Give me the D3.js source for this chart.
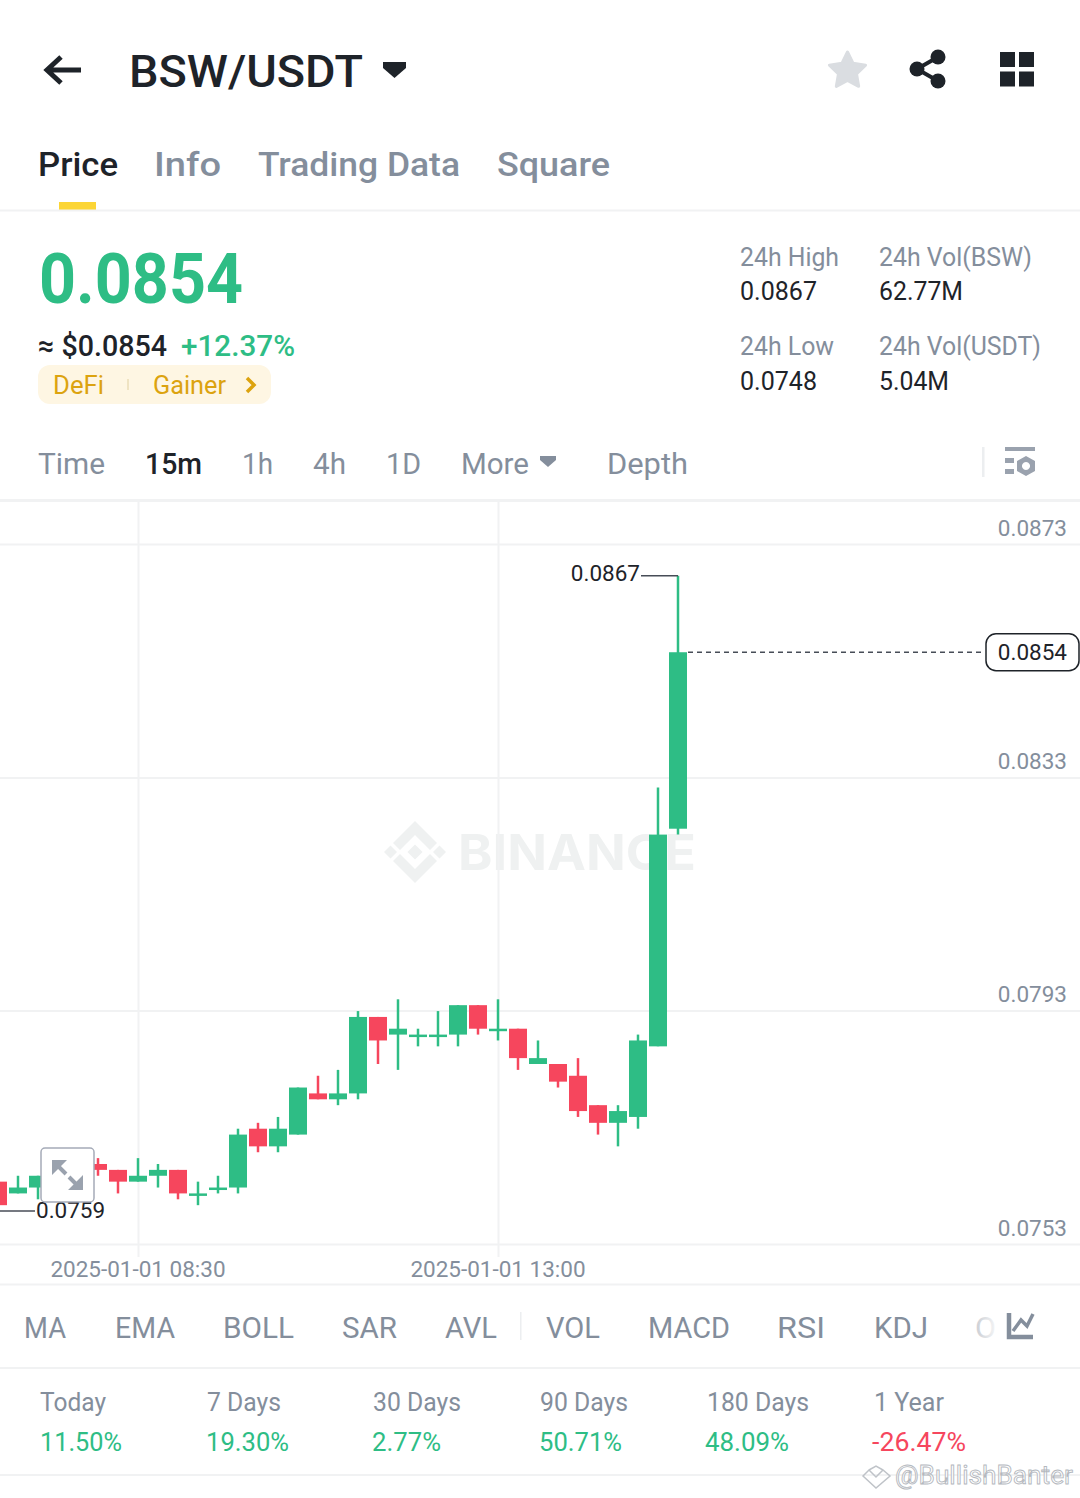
<!DOCTYPE html>
<html lang="en">
<head>
  <meta charset="UTF-8" />
  <title>BSW/USDT</title>
  <script src="https://d3js.org/d3.v7.min.js"></script>
  <style>
    html, body { margin: 0; padding: 0; background: #fff; }
    svg { display: block; font-family: Roboto, sans-serif; }
  </style>
</head>
<body>
  <svg width="1080" height="1498"></svg>

  <script>
    // 15m candles, left to right. Numbers 3 and 4 sit under the expand button, so they are guesses
    const opens  = [0.0764,0.0762,0.0763,0.0765,0.0766,0.0767,0.0766,0.0764,0.0765,0.0766,0.0762,0.0763,0.0763,0.0773,0.0770,0.0772,0.0779,0.0778,0.0779,0.0792,0.0789,0.0789,0.0789,0.0789,0.0794,0.0790,0.0790,0.0784,0.0784,0.0782,0.0777,0.0774,0.0775,0.0787,0.0824];
    const closes = [0.0760,0.0763,0.0765,0.0766,0.0767,0.0766,0.0764,0.0765,0.0766,0.0762,0.0762,0.0763,0.0772,0.0770,0.0773,0.0780,0.0778,0.0779,0.0792,0.0788,0.0790,0.0789,0.0789,0.0794,0.0790,0.0790,0.0785,0.0785,0.0781,0.0776,0.0774,0.0776,0.0788,0.0823,0.0854];
    const highs  = [0.0764,0.0765,0.0765,0.0766,0.0767,0.0768,0.0766,0.0768,0.0767,0.0766,0.0764,0.0765,0.0773,0.0774,0.0775,0.0780,0.0782,0.0783,0.0793,0.0792,0.0795,0.0790,0.0793,0.0794,0.0794,0.0795,0.0790,0.0788,0.0784,0.0785,0.0777,0.0777,0.0789,0.0831,0.0867];
    const lows   = [0.0759,0.0762,0.0761,0.0765,0.0766,0.0765,0.0762,0.0764,0.0763,0.0761,0.0760,0.0762,0.0762,0.0769,0.0769,0.0772,0.0778,0.0777,0.0778,0.0784,0.0783,0.0787,0.0787,0.0787,0.0789,0.0788,0.0783,0.0784,0.0780,0.0775,0.0772,0.0770,0.0773,0.0787,0.0823];

    const firstCandle = new Date(Date.UTC(2025, 0, 1, 6, 45));
    const timeTicks = [new Date(Date.UTC(2025, 0, 1, 8, 30)), new Date(Date.UTC(2025, 0, 1, 13, 0))];
    // gridlines are not on round prices, the app only prints four decimals
    const priceTicks = [0.08724, 0.08327, 0.07931, 0.07534];
    const priceLabels = ["0.0873", "0.0833", "0.0793", "0.0753"];
    const lastPrice = 0.0854;

    const mainTabs = ["Price", "Info", "Trading Data", "Square"];
    const periods = ["Time", "15m", "1h", "4h", "1D", "More", "Depth"];
    const indicators = ["MA", "EMA", "BOLL", "SAR", "AVL", "VOL", "MACD", "RSI", "KDJ"];
    const perfLabels = ["Today", "7 Days", "30 Days", "90 Days", "180 Days", "1 Year"];
    const perfValues = ["11.50%", "19.30%", "2.77%", "50.71%", "48.09%", "-26.47%"];

    // left and right edge of each label in the row
    const mainTabSpans = [[38,118],[154,221],[258,460],[497,610]];
    const periodSpans = [[38,105],[145,202],[242,273],[313,346],[386,421],[461,529],[607,688]];
    const indicatorSpans = [[24,66],[115,175],[223,294],[342,397],[445,497],[546,600],[648,730],[777,825],[874,928]];
    const perfLabelSpans = [[40,106],[207,281],[373,461],[540,628],[707,809],[874,944]];
    const perfValueSpans = [[40,122],[206,289],[372,441],[539,622],[705,789],[872,966]];

    const DARK = "#1E2329", GRAY = "#848E9C", GREEN = "#2EBD85", RED = "#F6465D", GRID = "#F1F2F3";

    const svg = d3.select("svg");

    function label(text, x1, x2, base, size, color, weight) {
      return svg.append("text")
        .attr("x", x1).attr("y", base)
        .attr("textLength", x2 - x1).attr("lengthAdjust", "spacingAndGlyphs")
        .attr("font-size", size).attr("font-weight", weight || 400)
        .attr("fill", color)
        .text(text);
    }
    function rule(y, w) {
      svg.append("line").attr("x1", 0).attr("x2", 1080).attr("y1", y).attr("y2", y)
        .attr("stroke", GRID).attr("stroke-width", w || 2);
    }

    const fade = svg.append("defs").append("linearGradient").attr("id", "fade");
    fade.append("stop").attr("offset", "0%").attr("stop-color", "#C9CDD3");
    fade.append("stop").attr("offset", "100%").attr("stop-color", "#F4F5F6");

    // header
    svg.append("path").attr("d", "M81,70H48M61,57L47,70L61,83")
      .attr("fill", "none").attr("stroke", DARK).attr("stroke-width", 5);
    label("BSW/USDT", 129, 363, 87, 45, DARK, 500);
    svg.append("path").attr("d", "M383,62H406V68L394.5,78L383,68Z").attr("fill", DARK);

    const star = d3.range(10).map(i => {
      const r = i % 2 ? 9.5 : 19, a = i * Math.PI / 5;
      return [847.5 + r * Math.sin(a), 71 - r * Math.cos(a)];
    });
    svg.append("path").attr("d", d3.line().curve(d3.curveLinearClosed)(star))
      .attr("fill", "#DADDE1").attr("stroke", "#DADDE1").attr("stroke-width", 3).attr("stroke-linejoin", "round");

    svg.append("path").attr("d", "M938,57L917,69L938,81").attr("fill", "none").attr("stroke", DARK).attr("stroke-width", 4);
    [[917,69],[938,57],[938,81]].forEach(c => {
      svg.append("circle").attr("cx", c[0]).attr("cy", c[1]).attr("r", 7.5).attr("fill", DARK);
    });
    [[1000,52],[1019,52],[1000,71.5],[1019,71.5]].forEach(c => {
      svg.append("rect").attr("x", c[0]).attr("y", c[1]).attr("width", 15).attr("height", 15).attr("fill", DARK);
    });

    mainTabs.forEach((t, i) => {
      label(t, mainTabSpans[i][0], mainTabSpans[i][1], 176, 34, i == 0 ? DARK : GRAY, 500);
    });
    svg.append("rect").attr("x", 59).attr("y", 202).attr("width", 37).attr("height", 8).attr("fill", "#FCD535");
    rule(210.5);

    // price block
    label("0.0854", 39, 243, 303, 70, GREEN, 700);
    label("≈ $0.0854", 38, 167, 356, 30, DARK, 500);
    label("+12.37%", 181, 295, 356, 30, GREEN, 500);
    svg.append("rect").attr("x", 38).attr("y", 365).attr("width", 233).attr("height", 39).attr("rx", 12).attr("fill", "#FEF6E3");
    label("DeFi", 53, 104, 394, 25, "#DCA30F");
    svg.append("rect").attr("x", 127).attr("y", 379).attr("width", 2).attr("height", 11).attr("fill", "#EFE3C2");
    label("Gainer", 153, 226, 394, 25, "#DCA30F");
    svg.append("path").attr("d", "M247,378L254,385L247,392").attr("fill", "none").attr("stroke", "#DCA30F").attr("stroke-width", 3.5);

    label("24h High", 740, 839, 266, 25, GRAY);
    label("0.0867", 740, 817, 300, 25, DARK);
    label("24h Vol(BSW)", 879, 1032, 266, 25, GRAY);
    label("62.77M", 879, 963, 300, 25, DARK);
    label("24h Low", 740, 834, 355, 25, GRAY);
    label("0.0748", 740, 817, 390, 25, DARK);
    label("24h Vol(USDT)", 879, 1041, 355, 25, GRAY);
    label("5.04M", 879, 949, 390, 25, DARK);

    // period row
    periods.forEach((t, i) => {
      label(t, periodSpans[i][0], periodSpans[i][1], 474, 30, i == 1 ? DARK : GRAY, i == 1 ? 500 : 400);
    });
    svg.append("path").attr("d", "M540,456H556V460L548,467L540,460Z").attr("fill", GRAY);
    svg.append("rect").attr("x", 982).attr("y", 447).attr("width", 2.5).attr("height", 30).attr("fill", "#ECEEF0");
    svg.append("path").attr("fill", "#9AA2AE").attr("fill-rule", "evenodd")
      .attr("d", "M1005,447H1035V451H1005ZM1005,458H1014V463H1005ZM1005,469H1014V474H1005Z"
        + "M1026,456L1035,461V471L1026,476L1017,471V461ZM1026,462a4,4 0 1,0 0.01,0Z");
    rule(500.5, 3);

    // chart
    const x = d3.scaleUtc().domain(timeTicks).range([138, 498]);
    const y = d3.scaleLinear().domain([priceTicks[3], priceTicks[0]]).range([1244, 544]);
    const times = closes.map((d, i) => d3.utcMinute.offset(firstCandle, i * 15));

    // watermark sits under the grid
    const mark = svg.append("g").attr("fill", "#EFF1F1");
    mark.append("path").attr("d",
      "M415,821L437,843L430,850L415,835L400,850L393,843Z"
      + "M415,883L437,861L430,854L415,869L400,854L393,861Z"
      + "M415,844.5L422.5,852L415,859.5L407.5,852Z"
      + "M390.5,845.5L397,852L390.5,858.5L384,852Z"
      + "M439.5,845.5L446,852L439.5,858.5L433,852Z");
    mark.append("text").attr("x", 458).attr("y", 870).attr("font-family", "Inter").attr("font-weight", 700)
      .attr("font-size", 50).attr("textLength", 238).attr("lengthAdjust", "spacingAndGlyphs").text("BINANCE");

    const yAxis = svg.append("g").attr("class", "y-axis")
      .call(d3.axisRight(y).tickValues(priceTicks).tickFormat((d, i) => priceLabels[i]).tickSize(1080));
    yAxis.select(".domain").remove();
    yAxis.selectAll("line").attr("stroke", GRID).attr("stroke-width", 2);
    yAxis.selectAll("text").attr("x", 1067).attr("dy", 0).attr("y", -9).attr("text-anchor", "end")
      .attr("font-family", "Roboto").attr("font-size", 22.5).attr("fill", GRAY);

    const xAxis = svg.append("g").attr("class", "x-axis").attr("transform", "translate(0,1284)")
      .call(d3.axisBottom(x).tickValues(timeTicks).tickFormat(d3.utcFormat("%Y-%m-%d %H:%M")).tickSizeInner(-782).tickSizeOuter(0));
    xAxis.select(".domain").remove();
    // the vertical grid stops just above the time labels
    xAxis.selectAll("line").attr("y1", -27).attr("stroke", GRID).attr("stroke-width", 2);
    xAxis.selectAll("text").attr("x", -0.5).attr("y", -7).attr("dy", 0)
      .attr("font-family", "Roboto").attr("font-size", 22.5).attr("fill", GRAY);

    const candles = svg.selectAll(".candle")
      .data(times.map((t, i) => ({ t, open: opens[i], close: closes[i], high: highs[i], low: lows[i] })))
      .enter().append("g").attr("class", "candle");

    const colorOf = d => d.close >= d.open ? GREEN : RED;
    candles.append("line")
      .attr("x1", d => x(d.t)).attr("x2", d => x(d.t))
      .attr("y1", d => y(d.high)).attr("y2", d => y(d.low))
      .attr("stroke", colorOf).attr("stroke-width", 2.5);
    candles.append("rect")
      .attr("x", d => x(d.t) - 9).attr("width", 18)
      .attr("y", d => y(Math.max(d.open, d.close)))
      .attr("height", d => Math.max(2.5, Math.abs(y(d.open) - y(d.close))))
      .attr("fill", colorOf);

    // high / low labels
    const hi = d3.max(highs), lo = d3.min(lows);
    const hiX = x(times[highs.indexOf(hi)]), loX = x(times[lows.indexOf(lo)]);
    svg.append("line").attr("x1", hiX - 37).attr("x2", hiX).attr("y1", y(hi)).attr("y2", y(hi)).attr("stroke", "#474D57").attr("stroke-width", 1.5);
    svg.append("text").attr("x", hiX - 38).attr("y", y(hi) + 5).attr("text-anchor", "end").attr("font-size", 22.5).attr("fill", DARK).text(d3.format(".4f")(hi));
    svg.append("line").attr("x1", loX).attr("x2", loX + 37).attr("y1", y(lo)).attr("y2", y(lo)).attr("stroke", "#474D57").attr("stroke-width", 1.5);
    svg.append("text").attr("x", loX + 38).attr("y", y(lo) + 7).attr("font-size", 22.5).attr("fill", DARK).text(d3.format(".4f")(lo));

    // last price
    svg.append("line").attr("x1", 688).attr("x2", 985).attr("y1", y(lastPrice)).attr("y2", y(lastPrice))
      .attr("stroke", "#474D57").attr("stroke-width", 1.5).attr("stroke-dasharray", "5 4");
    svg.append("rect").attr("x", 986).attr("y", y(lastPrice) - 18.5).attr("width", 93).attr("height", 37).attr("rx", 10)
      .attr("fill", "#fff").attr("stroke", DARK).attr("stroke-width", 1.5);
    svg.append("text").attr("x", 1067).attr("y", y(lastPrice) + 8).attr("text-anchor", "end").attr("font-size", 22.5).attr("fill", DARK).text(d3.format(".4f")(lastPrice));

    // expand button
    svg.append("rect").attr("x", 41).attr("y", 1148).attr("width", 53).attr("height", 54).attr("rx", 4)
      .attr("fill", "#fff").attr("stroke", "#A5ABB8").attr("stroke-width", 1.5);
    svg.append("path").attr("fill", "#9AA2AE").attr("d", "M52,1160H67L52,1175ZM83,1190H68L83,1175Z");
    svg.append("path").attr("stroke", "#9AA2AE").attr("stroke-width", 4).attr("d", "M56,1164L66,1174M69,1177L79,1187");

    rule(1284.5);

    // indicators
    indicators.forEach((t, i) => {
      label(t, indicatorSpans[i][0], indicatorSpans[i][1], 1338, 29, GRAY);
    });
    label("O", 975, 996, 1338, 29, "url(#fade)");
    svg.append("rect").attr("x", 520).attr("y", 1312).attr("width", 1.5).attr("height", 28).attr("fill", "#ECEEF0");
    svg.append("path").attr("d", "M1009,1313V1337H1033").attr("fill", "none").attr("stroke", GRAY).attr("stroke-width", 4.5);
    svg.append("path").attr("d", "M1013,1331L1021,1320L1027,1326L1033,1314").attr("fill", "none").attr("stroke", GRAY).attr("stroke-width", 3.5);
    rule(1368);

    // performance
    perfLabels.forEach((t, i) => {
      label(t, perfLabelSpans[i][0], perfLabelSpans[i][1], 1411, 26, GRAY);
      label(perfValues[i], perfValueSpans[i][0], perfValueSpans[i][1], 1451, 26, perfValues[i][0] == "-" ? RED : GREEN);
    });
    rule(1475);

    // repost stamp
    svg.append("path").attr("fill", "none").attr("stroke", "#BFC3C8").attr("stroke-width", 1.5)
      .attr("d", "M863,1476L869,1470L876,1477L883,1470L890,1476L876,1488ZM869,1470L876,1466L883,1470");
    svg.append("text").attr("x", 895).attr("y", 1484).attr("font-size", 26)
      .attr("textLength", 178).attr("lengthAdjust", "spacingAndGlyphs")
      .attr("fill", "#fff").attr("stroke", "#B4B8BE").attr("stroke-width", 0.9).text("@BullishBanter");
  </script>
</body>
</html>
